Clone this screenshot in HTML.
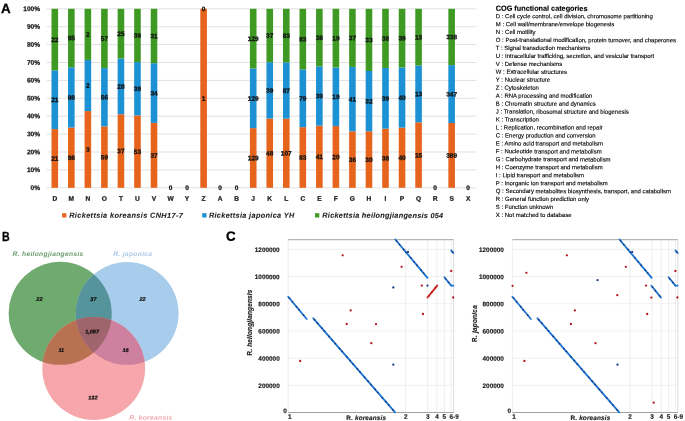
<!DOCTYPE html>
<html lang="en"><head><meta charset="utf-8"><title>Rickettsia COG figure</title>
<style>
html,body{margin:0;padding:0;background:#fff;}
body{width:685px;height:421px;overflow:hidden;}
svg{display:block;font-family:"Liberation Sans",Arial,sans-serif;}
.b{font-weight:bold;}
.i{font-style:italic;}
.ax{font-weight:bold;font-size:6.6px;fill:#1a1a1a;stroke:#1a1a1a;stroke-width:0.25px;}
.dl{font-weight:bold;font-size:6.5px;fill:#141414;text-anchor:middle;stroke:#141414;stroke-width:0.3px;}
.cog{font-size:5.97px;fill:#000;stroke:#000;stroke-width:0.12px;}
.vn{font-weight:bold;font-style:italic;font-size:5.5px;fill:#0c0c0c;text-anchor:middle;stroke:#0c0c0c;stroke-width:0.22px;}
.dp{font-weight:bold;font-size:6.4px;fill:#1a1a1a;stroke:#1a1a1a;stroke-width:0.15px;}
</style></head><body>
<svg width="685" height="421" viewBox="0 0 685 421">
<rect width="685" height="421" fill="#fff"/>
<text transform="matrix(1,0.001,0,1,0,0)" x="1" y="13.10" class="b" font-size="13.4" fill="#000" stroke="#000" stroke-width="0.3">A</text>
<line x1="46.8" x2="476.4" y1="187.80" y2="187.80" stroke="#d4d4d4" stroke-width="0.7"/>
<text transform="matrix(1,0.001,0,1,0,0)" x="40.1" y="189.91" class="ax" text-anchor="end">0%</text>
<line x1="46.8" x2="476.4" y1="169.90" y2="169.90" stroke="#d4d4d4" stroke-width="0.7"/>
<text transform="matrix(1,0.001,0,1,0,0)" x="40.1" y="172.01" class="ax" text-anchor="end">10%</text>
<line x1="46.8" x2="476.4" y1="152.00" y2="152.00" stroke="#d4d4d4" stroke-width="0.7"/>
<text transform="matrix(1,0.001,0,1,0,0)" x="40.1" y="154.11" class="ax" text-anchor="end">20%</text>
<line x1="46.8" x2="476.4" y1="134.10" y2="134.10" stroke="#d4d4d4" stroke-width="0.7"/>
<text transform="matrix(1,0.001,0,1,0,0)" x="40.1" y="136.21" class="ax" text-anchor="end">30%</text>
<line x1="46.8" x2="476.4" y1="116.20" y2="116.20" stroke="#d4d4d4" stroke-width="0.7"/>
<text transform="matrix(1,0.001,0,1,0,0)" x="40.1" y="118.31" class="ax" text-anchor="end">40%</text>
<line x1="46.8" x2="476.4" y1="98.30" y2="98.30" stroke="#d4d4d4" stroke-width="0.7"/>
<text transform="matrix(1,0.001,0,1,0,0)" x="40.1" y="100.41" class="ax" text-anchor="end">50%</text>
<line x1="46.8" x2="476.4" y1="80.40" y2="80.40" stroke="#d4d4d4" stroke-width="0.7"/>
<text transform="matrix(1,0.001,0,1,0,0)" x="40.1" y="82.51" class="ax" text-anchor="end">60%</text>
<line x1="46.8" x2="476.4" y1="62.50" y2="62.50" stroke="#d4d4d4" stroke-width="0.7"/>
<text transform="matrix(1,0.001,0,1,0,0)" x="40.1" y="64.61" class="ax" text-anchor="end">70%</text>
<line x1="46.8" x2="476.4" y1="44.60" y2="44.60" stroke="#d4d4d4" stroke-width="0.7"/>
<text transform="matrix(1,0.001,0,1,0,0)" x="40.1" y="46.71" class="ax" text-anchor="end">80%</text>
<line x1="46.8" x2="476.4" y1="26.70" y2="26.70" stroke="#d4d4d4" stroke-width="0.7"/>
<text transform="matrix(1,0.001,0,1,0,0)" x="40.1" y="28.81" class="ax" text-anchor="end">90%</text>
<line x1="46.8" x2="476.4" y1="8.80" y2="8.80" stroke="#d4d4d4" stroke-width="0.7"/>
<text transform="matrix(1,0.001,0,1,0,0)" x="40.1" y="10.91" class="ax" text-anchor="end">100%</text>
<text transform="matrix(1,0.001,0,1,0,0)" x="54.80" y="200.75" class="ax" text-anchor="middle" font-size="6.7">D</text>
<rect x="51.50" y="129.07" width="6.6" height="58.73" fill="#e7641d"/>
<rect x="51.50" y="70.33" width="6.6" height="58.73" fill="#1c91d3"/>
<rect x="51.50" y="8.80" width="6.6" height="61.53" fill="#3f9a23"/>
<text transform="matrix(1,0.001,0,1,0,0)" x="54.80" y="160.73" class="dl">21</text>
<text transform="matrix(1,0.001,0,1,0,0)" x="54.80" y="102.00" class="dl">21</text>
<text transform="matrix(1,0.001,0,1,0,0)" x="54.80" y="41.87" class="dl">22</text>
<text transform="matrix(1,0.001,0,1,0,0)" x="71.33" y="200.73" class="ax" text-anchor="middle" font-size="6.7">M</text>
<rect x="68.03" y="127.52" width="6.6" height="60.28" fill="#e7641d"/>
<rect x="68.03" y="67.24" width="6.6" height="60.28" fill="#1c91d3"/>
<rect x="68.03" y="8.80" width="6.6" height="58.44" fill="#3f9a23"/>
<text transform="matrix(1,0.001,0,1,0,0)" x="71.33" y="159.94" class="dl">98</text>
<text transform="matrix(1,0.001,0,1,0,0)" x="71.33" y="99.66" class="dl">98</text>
<text transform="matrix(1,0.001,0,1,0,0)" x="71.33" y="40.30" class="dl">95</text>
<text transform="matrix(1,0.001,0,1,0,0)" x="87.87" y="200.71" class="ax" text-anchor="middle" font-size="6.7">N</text>
<rect x="84.57" y="111.09" width="6.6" height="76.71" fill="#e7641d"/>
<rect x="84.57" y="59.94" width="6.6" height="51.14" fill="#1c91d3"/>
<rect x="84.57" y="8.80" width="6.6" height="51.14" fill="#3f9a23"/>
<text transform="matrix(1,0.001,0,1,0,0)" x="87.87" y="151.70" class="dl">3</text>
<text transform="matrix(1,0.001,0,1,0,0)" x="87.87" y="87.77" class="dl">2</text>
<text transform="matrix(1,0.001,0,1,0,0)" x="87.87" y="36.63" class="dl">2</text>
<text transform="matrix(1,0.001,0,1,0,0)" x="104.41" y="200.70" class="ax" text-anchor="middle" font-size="6.7">O</text>
<rect x="101.11" y="126.40" width="6.6" height="61.40" fill="#e7641d"/>
<rect x="101.11" y="68.12" width="6.6" height="58.28" fill="#1c91d3"/>
<rect x="101.11" y="8.80" width="6.6" height="59.32" fill="#3f9a23"/>
<text transform="matrix(1,0.001,0,1,0,0)" x="104.41" y="159.35" class="dl">59</text>
<text transform="matrix(1,0.001,0,1,0,0)" x="104.41" y="99.51" class="dl">56</text>
<text transform="matrix(1,0.001,0,1,0,0)" x="104.41" y="40.71" class="dl">57</text>
<text transform="matrix(1,0.001,0,1,0,0)" x="120.94" y="200.68" class="ax" text-anchor="middle" font-size="6.7">T</text>
<rect x="117.64" y="114.21" width="6.6" height="73.59" fill="#e7641d"/>
<rect x="117.64" y="58.52" width="6.6" height="55.69" fill="#1c91d3"/>
<rect x="117.64" y="8.80" width="6.6" height="49.72" fill="#3f9a23"/>
<text transform="matrix(1,0.001,0,1,0,0)" x="120.94" y="153.24" class="dl">37</text>
<text transform="matrix(1,0.001,0,1,0,0)" x="120.94" y="88.60" class="dl">28</text>
<text transform="matrix(1,0.001,0,1,0,0)" x="120.94" y="35.89" class="dl">25</text>
<text transform="matrix(1,0.001,0,1,0,0)" x="137.47" y="200.66" class="ax" text-anchor="middle" font-size="6.7">U</text>
<rect x="134.17" y="115.38" width="6.6" height="72.42" fill="#e7641d"/>
<rect x="134.17" y="62.09" width="6.6" height="53.29" fill="#1c91d3"/>
<rect x="134.17" y="8.80" width="6.6" height="53.29" fill="#3f9a23"/>
<text transform="matrix(1,0.001,0,1,0,0)" x="137.47" y="153.80" class="dl">53</text>
<text transform="matrix(1,0.001,0,1,0,0)" x="137.47" y="90.95" class="dl">39</text>
<text transform="matrix(1,0.001,0,1,0,0)" x="137.47" y="37.66" class="dl">39</text>
<text transform="matrix(1,0.001,0,1,0,0)" x="154.01" y="200.65" class="ax" text-anchor="middle" font-size="6.7">V</text>
<rect x="150.71" y="122.87" width="6.6" height="64.93" fill="#e7641d"/>
<rect x="150.71" y="63.20" width="6.6" height="59.67" fill="#1c91d3"/>
<rect x="150.71" y="8.80" width="6.6" height="54.40" fill="#3f9a23"/>
<text transform="matrix(1,0.001,0,1,0,0)" x="154.01" y="157.53" class="dl">37</text>
<text transform="matrix(1,0.001,0,1,0,0)" x="154.01" y="95.24" class="dl">34</text>
<text transform="matrix(1,0.001,0,1,0,0)" x="154.01" y="38.20" class="dl">31</text>
<text transform="matrix(1,0.001,0,1,0,0)" x="170.55" y="200.63" class="ax" text-anchor="middle" font-size="6.7">W</text>
<text transform="matrix(1,0.001,0,1,0,0)" x="170.55" y="189.73" class="dl">0</text>
<text transform="matrix(1,0.001,0,1,0,0)" x="187.08" y="200.61" class="ax" text-anchor="middle" font-size="6.7">Y</text>
<text transform="matrix(1,0.001,0,1,0,0)" x="187.08" y="189.71" class="dl">0</text>
<text transform="matrix(1,0.001,0,1,0,0)" x="203.62" y="200.60" class="ax" text-anchor="middle" font-size="6.7">Z</text>
<rect x="200.31" y="8.80" width="6.6" height="179.00" fill="#e7641d"/>
<text transform="matrix(1,0.001,0,1,0,0)" x="203.62" y="100.45" class="dl">1</text>
<text transform="matrix(1,0.001,0,1,0,0)" x="203.62" y="11.00" class="dl">0</text>
<text transform="matrix(1,0.001,0,1,0,0)" x="220.15" y="200.58" class="ax" text-anchor="middle" font-size="6.7">A</text>
<text transform="matrix(1,0.001,0,1,0,0)" x="220.15" y="189.68" class="dl">0</text>
<text transform="matrix(1,0.001,0,1,0,0)" x="236.69" y="200.56" class="ax" text-anchor="middle" font-size="6.7">B</text>
<text transform="matrix(1,0.001,0,1,0,0)" x="236.69" y="189.66" class="dl">0</text>
<text transform="matrix(1,0.001,0,1,0,0)" x="253.22" y="200.55" class="ax" text-anchor="middle" font-size="6.7">J</text>
<rect x="249.92" y="128.13" width="6.6" height="59.67" fill="#e7641d"/>
<rect x="249.92" y="68.47" width="6.6" height="59.67" fill="#1c91d3"/>
<rect x="249.92" y="8.80" width="6.6" height="59.67" fill="#3f9a23"/>
<text transform="matrix(1,0.001,0,1,0,0)" x="253.22" y="160.07" class="dl">129</text>
<text transform="matrix(1,0.001,0,1,0,0)" x="253.22" y="100.40" class="dl">129</text>
<text transform="matrix(1,0.001,0,1,0,0)" x="253.22" y="40.73" class="dl">129</text>
<text transform="matrix(1,0.001,0,1,0,0)" x="269.75" y="200.53" class="ax" text-anchor="middle" font-size="6.7">K</text>
<rect x="266.45" y="118.51" width="6.6" height="69.29" fill="#e7641d"/>
<rect x="266.45" y="62.21" width="6.6" height="56.30" fill="#1c91d3"/>
<rect x="266.45" y="8.80" width="6.6" height="53.41" fill="#3f9a23"/>
<text transform="matrix(1,0.001,0,1,0,0)" x="269.75" y="155.23" class="dl">48</text>
<text transform="matrix(1,0.001,0,1,0,0)" x="269.75" y="92.44" class="dl">39</text>
<text transform="matrix(1,0.001,0,1,0,0)" x="269.75" y="37.59" class="dl">37</text>
<text transform="matrix(1,0.001,0,1,0,0)" x="286.29" y="200.51" class="ax" text-anchor="middle" font-size="6.7">L</text>
<rect x="282.99" y="118.66" width="6.6" height="69.14" fill="#e7641d"/>
<rect x="282.99" y="62.44" width="6.6" height="56.22" fill="#1c91d3"/>
<rect x="282.99" y="8.80" width="6.6" height="53.64" fill="#3f9a23"/>
<text transform="matrix(1,0.001,0,1,0,0)" x="286.29" y="155.29" class="dl">107</text>
<text transform="matrix(1,0.001,0,1,0,0)" x="286.29" y="92.61" class="dl">87</text>
<text transform="matrix(1,0.001,0,1,0,0)" x="286.29" y="37.68" class="dl">83</text>
<text transform="matrix(1,0.001,0,1,0,0)" x="302.82" y="200.50" class="ax" text-anchor="middle" font-size="6.7">C</text>
<rect x="299.52" y="127.16" width="6.6" height="60.64" fill="#e7641d"/>
<rect x="299.52" y="69.44" width="6.6" height="57.72" fill="#1c91d3"/>
<rect x="299.52" y="8.80" width="6.6" height="60.64" fill="#3f9a23"/>
<text transform="matrix(1,0.001,0,1,0,0)" x="302.82" y="159.53" class="dl">83</text>
<text transform="matrix(1,0.001,0,1,0,0)" x="302.82" y="100.35" class="dl">79</text>
<text transform="matrix(1,0.001,0,1,0,0)" x="302.82" y="41.17" class="dl">83</text>
<text transform="matrix(1,0.001,0,1,0,0)" x="319.36" y="200.48" class="ax" text-anchor="middle" font-size="6.7">E</text>
<rect x="316.06" y="125.61" width="6.6" height="62.19" fill="#e7641d"/>
<rect x="316.06" y="66.44" width="6.6" height="59.16" fill="#1c91d3"/>
<rect x="316.06" y="8.80" width="6.6" height="57.64" fill="#3f9a23"/>
<text transform="matrix(1,0.001,0,1,0,0)" x="319.36" y="158.73" class="dl">41</text>
<text transform="matrix(1,0.001,0,1,0,0)" x="319.36" y="98.05" class="dl">39</text>
<text transform="matrix(1,0.001,0,1,0,0)" x="319.36" y="39.65" class="dl">38</text>
<text transform="matrix(1,0.001,0,1,0,0)" x="335.90" y="200.46" class="ax" text-anchor="middle" font-size="6.7">F</text>
<rect x="332.60" y="126.08" width="6.6" height="61.72" fill="#e7641d"/>
<rect x="332.60" y="67.44" width="6.6" height="58.64" fill="#1c91d3"/>
<rect x="332.60" y="8.80" width="6.6" height="58.64" fill="#3f9a23"/>
<text transform="matrix(1,0.001,0,1,0,0)" x="335.90" y="158.95" class="dl">20</text>
<text transform="matrix(1,0.001,0,1,0,0)" x="335.90" y="98.77" class="dl">19</text>
<text transform="matrix(1,0.001,0,1,0,0)" x="335.90" y="40.13" class="dl">19</text>
<text transform="matrix(1,0.001,0,1,0,0)" x="352.43" y="200.45" class="ax" text-anchor="middle" font-size="6.7">G</text>
<rect x="349.13" y="131.27" width="6.6" height="56.53" fill="#e7641d"/>
<rect x="349.13" y="66.90" width="6.6" height="64.38" fill="#1c91d3"/>
<rect x="349.13" y="8.80" width="6.6" height="58.10" fill="#3f9a23"/>
<text transform="matrix(1,0.001,0,1,0,0)" x="352.43" y="161.54" class="dl">36</text>
<text transform="matrix(1,0.001,0,1,0,0)" x="352.43" y="101.09" class="dl">41</text>
<text transform="matrix(1,0.001,0,1,0,0)" x="352.43" y="39.85" class="dl">37</text>
<text transform="matrix(1,0.001,0,1,0,0)" x="368.97" y="200.43" class="ax" text-anchor="middle" font-size="6.7">H</text>
<rect x="365.67" y="131.27" width="6.6" height="56.53" fill="#e7641d"/>
<rect x="365.67" y="70.98" width="6.6" height="60.29" fill="#1c91d3"/>
<rect x="365.67" y="8.80" width="6.6" height="62.18" fill="#3f9a23"/>
<text transform="matrix(1,0.001,0,1,0,0)" x="368.97" y="161.52" class="dl">30</text>
<text transform="matrix(1,0.001,0,1,0,0)" x="368.97" y="103.11" class="dl">32</text>
<text transform="matrix(1,0.001,0,1,0,0)" x="368.97" y="41.87" class="dl">33</text>
<text transform="matrix(1,0.001,0,1,0,0)" x="385.50" y="200.41" class="ax" text-anchor="middle" font-size="6.7">I</text>
<rect x="382.20" y="128.65" width="6.6" height="59.15" fill="#e7641d"/>
<rect x="382.20" y="67.95" width="6.6" height="60.70" fill="#1c91d3"/>
<rect x="382.20" y="8.80" width="6.6" height="59.15" fill="#3f9a23"/>
<text transform="matrix(1,0.001,0,1,0,0)" x="385.50" y="160.19" class="dl">38</text>
<text transform="matrix(1,0.001,0,1,0,0)" x="385.50" y="100.26" class="dl">39</text>
<text transform="matrix(1,0.001,0,1,0,0)" x="385.50" y="40.33" class="dl">38</text>
<text transform="matrix(1,0.001,0,1,0,0)" x="402.04" y="200.40" class="ax" text-anchor="middle" font-size="6.7">P</text>
<rect x="398.74" y="127.63" width="6.6" height="60.17" fill="#e7641d"/>
<rect x="398.74" y="67.46" width="6.6" height="60.17" fill="#1c91d3"/>
<rect x="398.74" y="8.80" width="6.6" height="58.66" fill="#3f9a23"/>
<text transform="matrix(1,0.001,0,1,0,0)" x="402.04" y="159.67" class="dl">40</text>
<text transform="matrix(1,0.001,0,1,0,0)" x="402.04" y="99.50" class="dl">40</text>
<text transform="matrix(1,0.001,0,1,0,0)" x="402.04" y="40.08" class="dl">39</text>
<text transform="matrix(1,0.001,0,1,0,0)" x="418.57" y="200.38" class="ax" text-anchor="middle" font-size="6.7">Q</text>
<rect x="415.27" y="122.31" width="6.6" height="65.49" fill="#e7641d"/>
<rect x="415.27" y="65.56" width="6.6" height="56.76" fill="#1c91d3"/>
<rect x="415.27" y="8.80" width="6.6" height="56.76" fill="#3f9a23"/>
<text transform="matrix(1,0.001,0,1,0,0)" x="418.57" y="156.99" class="dl">15</text>
<text transform="matrix(1,0.001,0,1,0,0)" x="418.57" y="95.86" class="dl">13</text>
<text transform="matrix(1,0.001,0,1,0,0)" x="418.57" y="39.11" class="dl">13</text>
<text transform="matrix(1,0.001,0,1,0,0)" x="435.11" y="200.36" class="ax" text-anchor="middle" font-size="6.7">R</text>
<text transform="matrix(1,0.001,0,1,0,0)" x="435.11" y="189.46" class="dl">0</text>
<text transform="matrix(1,0.001,0,1,0,0)" x="451.64" y="200.35" class="ax" text-anchor="middle" font-size="6.7">S</text>
<rect x="448.34" y="122.97" width="6.6" height="64.83" fill="#e7641d"/>
<rect x="448.34" y="65.13" width="6.6" height="57.83" fill="#1c91d3"/>
<rect x="448.34" y="8.80" width="6.6" height="56.33" fill="#3f9a23"/>
<text transform="matrix(1,0.001,0,1,0,0)" x="451.64" y="157.28" class="dl">389</text>
<text transform="matrix(1,0.001,0,1,0,0)" x="451.64" y="95.95" class="dl">347</text>
<text transform="matrix(1,0.001,0,1,0,0)" x="451.64" y="38.87" class="dl">338</text>
<text transform="matrix(1,0.001,0,1,0,0)" x="468.18" y="200.33" class="ax" text-anchor="middle" font-size="6.7">X</text>
<text transform="matrix(1,0.001,0,1,0,0)" x="468.18" y="189.43" class="dl">0</text>
<rect x="62.1" y="213.2" width="4.3" height="4.3" fill="#e7641d"/>
<text transform="matrix(1,0.001,0,1,0,0)" x="69.2" y="217.73" class="b i" font-size="7.3" fill="#1a1a1a" stroke="#1a1a1a" stroke-width="0.1" textLength="113.6" lengthAdjust="spacing">Rickettsia koreansis CNH17-7</text>
<rect x="202.2" y="213.2" width="4.3" height="4.3" fill="#1c91d3"/>
<text transform="matrix(1,0.001,0,1,0,0)" x="208.9" y="217.59" class="b i" font-size="7.3" fill="#1a1a1a" stroke="#1a1a1a" stroke-width="0.1" textLength="85.3" lengthAdjust="spacing">Rickettsia japonica YH</text>
<rect x="315" y="213.2" width="4.3" height="4.3" fill="#3f9a23"/>
<text transform="matrix(1,0.001,0,1,0,0)" x="322.3" y="217.48" class="b i" font-size="7.3" fill="#1a1a1a" stroke="#1a1a1a" stroke-width="0.1" textLength="120.9" lengthAdjust="spacing">Rickettsia heilongjiangensis 054</text>
<text transform="matrix(1,0.001,0,1,0,0)" x="495.8" y="10.30" class="b" font-size="7.27" fill="#000" stroke="#000" stroke-width="0.15">COG functional categories</text>
<text transform="matrix(1,0.001,0,1,0,0)" x="495.8" y="17.70" class="cog">D : Cell cycle control, cell division, chromosome partitioning</text>
<text transform="matrix(1,0.001,0,1,0,0)" x="495.8" y="25.65" class="cog">M : Cell wall/membrane/envelope biogenesis</text>
<text transform="matrix(1,0.001,0,1,0,0)" x="495.8" y="33.60" class="cog">N : Cell motility</text>
<text transform="matrix(1,0.001,0,1,0,0)" x="495.8" y="41.55" class="cog">O : Post-translational modification, protein turnover, and chaperones</text>
<text transform="matrix(1,0.001,0,1,0,0)" x="495.8" y="49.50" class="cog">T : Signal transduction mechanisms</text>
<text transform="matrix(1,0.001,0,1,0,0)" x="495.8" y="57.45" class="cog">U : Intracellular trafficking, secretion, and vesicular transport</text>
<text transform="matrix(1,0.001,0,1,0,0)" x="495.8" y="65.40" class="cog">V : Defense mechanisms</text>
<text transform="matrix(1,0.001,0,1,0,0)" x="495.8" y="73.35" class="cog">W : Extracellular structures</text>
<text transform="matrix(1,0.001,0,1,0,0)" x="495.8" y="81.30" class="cog">Y : Nuclear structure</text>
<text transform="matrix(1,0.001,0,1,0,0)" x="495.8" y="89.25" class="cog">Z : Cytoskeleton</text>
<text transform="matrix(1,0.001,0,1,0,0)" x="495.8" y="97.20" class="cog">A : RNA processing and modification</text>
<text transform="matrix(1,0.001,0,1,0,0)" x="495.8" y="105.15" class="cog">B : Chromatin structure and dynamics</text>
<text transform="matrix(1,0.001,0,1,0,0)" x="495.8" y="113.10" class="cog">J : Translation, ribosomal structure and biogenesis</text>
<text transform="matrix(1,0.001,0,1,0,0)" x="495.8" y="121.05" class="cog">K : Transcription</text>
<text transform="matrix(1,0.001,0,1,0,0)" x="495.8" y="129.00" class="cog">L : Replication, recombination and repair</text>
<text transform="matrix(1,0.001,0,1,0,0)" x="495.8" y="136.95" class="cog">C : Energy production and conversion</text>
<text transform="matrix(1,0.001,0,1,0,0)" x="495.8" y="144.90" class="cog">E : Amino acid transport and metabolism</text>
<text transform="matrix(1,0.001,0,1,0,0)" x="495.8" y="152.85" class="cog">F : Nucleotide transport and metabolism</text>
<text transform="matrix(1,0.001,0,1,0,0)" x="495.8" y="160.80" class="cog">G : Carbohydrate transport and metabolism</text>
<text transform="matrix(1,0.001,0,1,0,0)" x="495.8" y="168.75" class="cog">H : Coenzyme transport and metabolism</text>
<text transform="matrix(1,0.001,0,1,0,0)" x="495.8" y="176.70" class="cog">I : Lipid transport and metabolism</text>
<text transform="matrix(1,0.001,0,1,0,0)" x="495.8" y="184.65" class="cog">P : Inorganic ion transport and metabolism</text>
<text transform="matrix(1,0.001,0,1,0,0)" x="495.8" y="192.60" class="cog">Q : Secondary metabolites biosynthesis, transport, and catabolism</text>
<text transform="matrix(1,0.001,0,1,0,0)" x="495.8" y="200.55" class="cog">R : General function prediction only</text>
<text transform="matrix(1,0.001,0,1,0,0)" x="495.8" y="208.50" class="cog">S : Function unknown</text>
<text transform="matrix(1,0.001,0,1,0,0)" x="495.8" y="216.45" class="cog">X : Not matched to database</text>
<text transform="matrix(1,0.001,0,1,0,0)" x="2.0" y="240.90" class="b" font-size="13.2" fill="#000" stroke="#000" stroke-width="0.3" textLength="7.7" lengthAdjust="spacingAndGlyphs">B</text>
<defs>
<clipPath id="cg"><circle cx="60.3" cy="313.4" r="51.4"/></clipPath>
<clipPath id="cb"><circle cx="127.2" cy="313.4" r="51.4"/></clipPath>
<clipPath id="cp"><circle cx="93.7" cy="368.5" r="51.4"/></clipPath>
</defs>
<circle cx="60.3" cy="313.4" r="51.4" fill="#6fab6e" stroke="#5f9a5f" stroke-width="0.4"/>
<circle cx="127.2" cy="313.4" r="51.4" fill="#a8cceb"/>
<circle cx="93.7" cy="368.5" r="51.4" fill="#f7a6ab"/>
<circle cx="127.2" cy="313.4" r="51.4" fill="#54949a" clip-path="url(#cg)"/>
<circle cx="93.7" cy="368.5" r="51.4" fill="#b87252" clip-path="url(#cg)"/>
<circle cx="93.7" cy="368.5" r="51.4" fill="#cd819f" clip-path="url(#cb)"/>
<g clip-path="url(#cg)"><circle cx="93.7" cy="368.5" r="51.4" fill="#9e656c" clip-path="url(#cb)"/></g>
<text transform="matrix(1,0.001,0,1,0,0)" x="12.6" y="255.89" class="b i" font-size="6.7" fill="#699c6a" textLength="70.7" lengthAdjust="spacing">R. heilongjiangensis</text>
<text transform="matrix(1,0.001,0,1,0,0)" x="113.2" y="255.79" class="b i" font-size="6.7" fill="#a9c8e6" textLength="38.9" lengthAdjust="spacing">R. japonica</text>
<text transform="matrix(1,0.001,0,1,0,0)" x="129.3" y="419.67" class="b i" font-size="6.7" fill="#f2a7ad" textLength="43" lengthAdjust="spacing">R. koreansis</text>
<text transform="matrix(1,0.001,0,1,0,0)" x="39.4" y="301.06" class="vn">22</text>
<text transform="matrix(1,0.001,0,1,0,0)" x="93.4" y="301.01" class="vn">37</text>
<text transform="matrix(1,0.001,0,1,0,0)" x="142.5" y="300.96" class="vn">22</text>
<text transform="matrix(1,0.001,0,1,0,0)" x="92.1" y="333.31" class="vn">1,097</text>
<text transform="matrix(1,0.001,0,1,0,0)" x="61.3" y="352.04" class="vn">11</text>
<text transform="matrix(1,0.001,0,1,0,0)" x="125.5" y="351.97" class="vn">16</text>
<text transform="matrix(1,0.001,0,1,0,0)" x="92.9" y="399.51" class="vn">132</text>
<text transform="matrix(1,0.001,0,1,0,0)" x="225.9" y="240.57" class="b" font-size="13.4" fill="#000" stroke="#000" stroke-width="0.3">C</text>
<line x1="288.2" x2="453.6" y1="385.30" y2="385.30" stroke="#e6e6e6" stroke-width="0.6"/>
<line x1="288.2" x2="453.6" y1="358.10" y2="358.10" stroke="#e6e6e6" stroke-width="0.6"/>
<line x1="288.2" x2="453.6" y1="330.90" y2="330.90" stroke="#e6e6e6" stroke-width="0.6"/>
<line x1="288.2" x2="453.6" y1="303.70" y2="303.70" stroke="#e6e6e6" stroke-width="0.6"/>
<line x1="288.2" x2="453.6" y1="276.50" y2="276.50" stroke="#e6e6e6" stroke-width="0.6"/>
<line x1="288.2" x2="453.6" y1="249.30" y2="249.30" stroke="#e6e6e6" stroke-width="0.6"/>
<line x1="405.60" x2="405.60" y1="239.7" y2="412.5" stroke="#e4e4e4" stroke-width="0.6"/>
<line x1="427.70" x2="427.70" y1="239.7" y2="412.5" stroke="#e4e4e4" stroke-width="0.6"/>
<line x1="437.00" x2="437.00" y1="239.7" y2="412.5" stroke="#e4e4e4" stroke-width="0.6"/>
<line x1="444.40" x2="444.40" y1="239.7" y2="412.5" stroke="#e4e4e4" stroke-width="0.6"/>
<line x1="451.20" x2="451.20" y1="239.7" y2="412.5" stroke="#e4e4e4" stroke-width="0.6"/>
<line x1="288.2" x2="288.2" y1="239.7" y2="412.5" stroke="#e0e0e0" stroke-width="0.6"/>
<line x1="453.6" x2="453.6" y1="239.7" y2="412.5" stroke="#dcdcdc" stroke-width="1"/>
<line x1="288.2" x2="453.6" y1="239.7" y2="239.7" stroke="#8c8c8c" stroke-width="0.8"/>
<line x1="288.2" x2="453.6" y1="412.5" y2="412.5" stroke="#8c8c8c" stroke-width="0.8"/>
<text transform="matrix(1,0.001,0,1,0,0)" x="286.90" y="412.81" class="dp" text-anchor="end">0</text>
<text transform="matrix(1,0.001,0,1,0,0)" x="279.70" y="387.67" class="dp" text-anchor="end">200000</text>
<text transform="matrix(1,0.001,0,1,0,0)" x="279.70" y="360.47" class="dp" text-anchor="end">400000</text>
<text transform="matrix(1,0.001,0,1,0,0)" x="279.70" y="333.27" class="dp" text-anchor="end">600000</text>
<text transform="matrix(1,0.001,0,1,0,0)" x="279.70" y="306.07" class="dp" text-anchor="end">800000</text>
<text transform="matrix(1,0.001,0,1,0,0)" x="279.70" y="278.87" class="dp" text-anchor="end">1000000</text>
<text transform="matrix(1,0.001,0,1,0,0)" x="279.70" y="251.67" class="dp" text-anchor="end">1200000</text>
<text transform="matrix(1,0.001,0,1,0,0)" x="289.80" y="418.51" class="dp" text-anchor="middle">1</text>
<text transform="matrix(1,0.001,0,1,0,0)" x="346.30" y="419.55" class="dp" textLength="39.8" lengthAdjust="spacing">R. <tspan class="i">koreansis</tspan></text>
<text transform="matrix(1,0.001,0,1,0,0)" x="405.80" y="418.39" class="dp" text-anchor="middle">2</text>
<text transform="matrix(1,0.001,0,1,0,0)" x="427.80" y="418.37" class="dp" text-anchor="middle">3</text>
<text transform="matrix(1,0.001,0,1,0,0)" x="437.00" y="418.36" class="dp" text-anchor="middle">4</text>
<text transform="matrix(1,0.001,0,1,0,0)" x="444.40" y="418.36" class="dp" text-anchor="middle">5</text>
<text transform="matrix(1,0.001,0,1,0,0)" x="454.20" y="418.35" class="dp" text-anchor="middle">6-9</text>
<text transform="translate(252.40,322.6) rotate(-90)" class="dp" font-size="6.9" text-anchor="middle" textLength="66" lengthAdjust="spacing">R. <tspan class="i">heilongjiangensis</tspan></text>
<line x1="288.20" y1="296.70" x2="306.70" y2="319.00" stroke="#1b74d4" stroke-width="1.8" stroke-linecap="round"/>
<circle cx="289.48" cy="298.24" r="0.85" fill="#17306e" opacity="0.9"/>
<circle cx="292.35" cy="301.70" r="0.85" fill="#17306e" opacity="0.9"/>
<circle cx="296.50" cy="306.71" r="0.85" fill="#17306e" opacity="0.9"/>
<circle cx="298.93" cy="309.63" r="0.85" fill="#17306e" opacity="0.9"/>
<circle cx="303.52" cy="315.17" r="0.85" fill="#17306e" opacity="0.9"/>
<line x1="313.30" y1="318.30" x2="395.10" y2="412.30" stroke="#1b74d4" stroke-width="1.8" stroke-linecap="round"/>
<circle cx="314.61" cy="319.81" r="0.85" fill="#17306e" opacity="0.9"/>
<circle cx="317.57" cy="323.20" r="0.85" fill="#17306e" opacity="0.9"/>
<circle cx="321.83" cy="328.11" r="0.85" fill="#17306e" opacity="0.9"/>
<circle cx="324.33" cy="330.97" r="0.85" fill="#17306e" opacity="0.9"/>
<circle cx="329.05" cy="336.40" r="0.85" fill="#17306e" opacity="0.9"/>
<circle cx="332.40" cy="340.25" r="0.85" fill="#17306e" opacity="0.9"/>
<circle cx="335.36" cy="343.65" r="0.85" fill="#17306e" opacity="0.9"/>
<circle cx="339.62" cy="348.55" r="0.85" fill="#17306e" opacity="0.9"/>
<circle cx="342.12" cy="351.42" r="0.85" fill="#17306e" opacity="0.9"/>
<circle cx="346.84" cy="356.85" r="0.85" fill="#17306e" opacity="0.9"/>
<circle cx="350.19" cy="360.70" r="0.85" fill="#17306e" opacity="0.9"/>
<circle cx="353.15" cy="364.09" r="0.85" fill="#17306e" opacity="0.9"/>
<circle cx="357.41" cy="368.99" r="0.85" fill="#17306e" opacity="0.9"/>
<circle cx="359.91" cy="371.86" r="0.85" fill="#17306e" opacity="0.9"/>
<circle cx="364.63" cy="377.29" r="0.85" fill="#17306e" opacity="0.9"/>
<circle cx="367.98" cy="381.14" r="0.85" fill="#17306e" opacity="0.9"/>
<circle cx="370.94" cy="384.53" r="0.85" fill="#17306e" opacity="0.9"/>
<circle cx="375.20" cy="389.44" r="0.85" fill="#17306e" opacity="0.9"/>
<circle cx="377.70" cy="392.30" r="0.85" fill="#17306e" opacity="0.9"/>
<circle cx="382.42" cy="397.73" r="0.85" fill="#17306e" opacity="0.9"/>
<circle cx="385.77" cy="401.58" r="0.85" fill="#17306e" opacity="0.9"/>
<circle cx="388.73" cy="404.98" r="0.85" fill="#17306e" opacity="0.9"/>
<circle cx="392.99" cy="409.88" r="0.85" fill="#17306e" opacity="0.9"/>
<line x1="395.30" y1="239.50" x2="427.50" y2="277.80" stroke="#1b74d4" stroke-width="1.8" stroke-linecap="round"/>
<circle cx="396.59" cy="241.03" r="0.85" fill="#17306e" opacity="0.9"/>
<circle cx="399.48" cy="244.48" r="0.85" fill="#17306e" opacity="0.9"/>
<circle cx="403.67" cy="249.45" r="0.85" fill="#17306e" opacity="0.9"/>
<circle cx="406.11" cy="252.36" r="0.85" fill="#17306e" opacity="0.9"/>
<circle cx="410.74" cy="257.87" r="0.85" fill="#17306e" opacity="0.9"/>
<circle cx="414.03" cy="261.77" r="0.85" fill="#17306e" opacity="0.9"/>
<circle cx="416.92" cy="265.22" r="0.85" fill="#17306e" opacity="0.9"/>
<circle cx="421.11" cy="270.19" r="0.85" fill="#17306e" opacity="0.9"/>
<circle cx="423.55" cy="273.10" r="0.85" fill="#17306e" opacity="0.9"/>
<line x1="444.40" y1="277.30" x2="451.20" y2="285.60" stroke="#1b74d4" stroke-width="1.8" stroke-linecap="round"/>
<circle cx="445.67" cy="278.85" r="0.85" fill="#17306e" opacity="0.9"/>
<circle cx="448.52" cy="282.33" r="0.85" fill="#17306e" opacity="0.9"/>
<line x1="451.20" y1="285.60" x2="453.40" y2="285.60" stroke="#1b74d4" stroke-width="1.8" stroke-linecap="round"/>
<line x1="451.20" y1="250.40" x2="453.40" y2="253.00" stroke="#1b74d4" stroke-width="1.8" stroke-linecap="round"/>
<circle cx="452.49" cy="251.93" r="0.85" fill="#17306e" opacity="0.9"/>
<line x1="427.50" y1="297.50" x2="437.20" y2="285.60" stroke="#cf2222" stroke-width="1.9" stroke-linecap="round"/>
<circle cx="428.76" cy="295.95" r="0.85" fill="#a81818" opacity="0.9"/>
<circle cx="431.61" cy="292.46" r="0.85" fill="#a81818" opacity="0.9"/>
<circle cx="435.71" cy="287.42" r="0.85" fill="#a81818" opacity="0.9"/>
<circle cx="427.50" cy="285.60" r="1.15" fill="#1c3f88"/>
<circle cx="300.20" cy="361.00" r="1.15" fill="#b51622"/>
<circle cx="342.70" cy="255.30" r="1.15" fill="#b51622"/>
<circle cx="401.60" cy="266.80" r="1.15" fill="#b51622"/>
<circle cx="421.80" cy="285.60" r="1.15" fill="#b51622"/>
<circle cx="451.20" cy="271.00" r="1.15" fill="#b51622"/>
<circle cx="453.20" cy="297.50" r="1.15" fill="#b51622"/>
<circle cx="423.00" cy="314.00" r="1.15" fill="#b51622"/>
<circle cx="350.70" cy="310.40" r="1.15" fill="#b51622"/>
<circle cx="346.70" cy="324.00" r="1.15" fill="#b51622"/>
<circle cx="371.30" cy="343.20" r="1.15" fill="#b51622"/>
<circle cx="393.30" cy="364.70" r="1.15" fill="#1c3f88"/>
<circle cx="408.00" cy="251.90" r="1.15" fill="#1c3f88"/>
<circle cx="376.00" cy="324.20" r="1.15" fill="#b51622"/>
<circle cx="393.30" cy="287.50" r="1.15" fill="#1c3f88"/>
<line x1="512.4" x2="677.8" y1="385.30" y2="385.30" stroke="#e6e6e6" stroke-width="0.6"/>
<line x1="512.4" x2="677.8" y1="358.10" y2="358.10" stroke="#e6e6e6" stroke-width="0.6"/>
<line x1="512.4" x2="677.8" y1="330.90" y2="330.90" stroke="#e6e6e6" stroke-width="0.6"/>
<line x1="512.4" x2="677.8" y1="303.70" y2="303.70" stroke="#e6e6e6" stroke-width="0.6"/>
<line x1="512.4" x2="677.8" y1="276.50" y2="276.50" stroke="#e6e6e6" stroke-width="0.6"/>
<line x1="512.4" x2="677.8" y1="249.30" y2="249.30" stroke="#e6e6e6" stroke-width="0.6"/>
<line x1="629.80" x2="629.80" y1="239.7" y2="412.5" stroke="#e4e4e4" stroke-width="0.6"/>
<line x1="651.90" x2="651.90" y1="239.7" y2="412.5" stroke="#e4e4e4" stroke-width="0.6"/>
<line x1="661.20" x2="661.20" y1="239.7" y2="412.5" stroke="#e4e4e4" stroke-width="0.6"/>
<line x1="668.60" x2="668.60" y1="239.7" y2="412.5" stroke="#e4e4e4" stroke-width="0.6"/>
<line x1="675.40" x2="675.40" y1="239.7" y2="412.5" stroke="#e4e4e4" stroke-width="0.6"/>
<line x1="512.4" x2="512.4" y1="239.7" y2="412.5" stroke="#e0e0e0" stroke-width="0.6"/>
<line x1="677.8" x2="677.8" y1="239.7" y2="412.5" stroke="#dcdcdc" stroke-width="1"/>
<line x1="512.4" x2="677.8" y1="239.7" y2="239.7" stroke="#8c8c8c" stroke-width="0.8"/>
<line x1="512.4" x2="677.8" y1="412.5" y2="412.5" stroke="#8c8c8c" stroke-width="0.8"/>
<text transform="matrix(1,0.001,0,1,0,0)" x="511.10" y="412.59" class="dp" text-anchor="end">0</text>
<text transform="matrix(1,0.001,0,1,0,0)" x="503.90" y="387.45" class="dp" text-anchor="end">200000</text>
<text transform="matrix(1,0.001,0,1,0,0)" x="503.90" y="360.25" class="dp" text-anchor="end">400000</text>
<text transform="matrix(1,0.001,0,1,0,0)" x="503.90" y="333.05" class="dp" text-anchor="end">600000</text>
<text transform="matrix(1,0.001,0,1,0,0)" x="503.90" y="305.85" class="dp" text-anchor="end">800000</text>
<text transform="matrix(1,0.001,0,1,0,0)" x="503.90" y="278.65" class="dp" text-anchor="end">1000000</text>
<text transform="matrix(1,0.001,0,1,0,0)" x="503.90" y="251.45" class="dp" text-anchor="end">1200000</text>
<text transform="matrix(1,0.001,0,1,0,0)" x="514.00" y="418.29" class="dp" text-anchor="middle">1</text>
<text transform="matrix(1,0.001,0,1,0,0)" x="570.50" y="419.33" class="dp" textLength="39.8" lengthAdjust="spacing">R. <tspan class="i">koreansis</tspan></text>
<text transform="matrix(1,0.001,0,1,0,0)" x="630.00" y="418.17" class="dp" text-anchor="middle">2</text>
<text transform="matrix(1,0.001,0,1,0,0)" x="652.00" y="418.15" class="dp" text-anchor="middle">3</text>
<text transform="matrix(1,0.001,0,1,0,0)" x="661.20" y="418.14" class="dp" text-anchor="middle">4</text>
<text transform="matrix(1,0.001,0,1,0,0)" x="668.60" y="418.13" class="dp" text-anchor="middle">5</text>
<text transform="matrix(1,0.001,0,1,0,0)" x="678.40" y="418.12" class="dp" text-anchor="middle">6-9</text>
<text transform="translate(476.60,323.7) rotate(-90)" class="dp" font-size="6.9" text-anchor="middle" textLength="36.8" lengthAdjust="spacing">R. <tspan class="i">japonica</tspan></text>
<line x1="512.40" y1="296.70" x2="530.90" y2="319.00" stroke="#1b74d4" stroke-width="1.8" stroke-linecap="round"/>
<circle cx="513.68" cy="298.24" r="0.85" fill="#17306e" opacity="0.9"/>
<circle cx="516.55" cy="301.70" r="0.85" fill="#17306e" opacity="0.9"/>
<circle cx="520.70" cy="306.71" r="0.85" fill="#17306e" opacity="0.9"/>
<circle cx="523.13" cy="309.63" r="0.85" fill="#17306e" opacity="0.9"/>
<circle cx="527.72" cy="315.17" r="0.85" fill="#17306e" opacity="0.9"/>
<line x1="537.50" y1="318.30" x2="619.30" y2="412.30" stroke="#1b74d4" stroke-width="1.8" stroke-linecap="round"/>
<circle cx="538.81" cy="319.81" r="0.85" fill="#17306e" opacity="0.9"/>
<circle cx="541.77" cy="323.20" r="0.85" fill="#17306e" opacity="0.9"/>
<circle cx="546.03" cy="328.11" r="0.85" fill="#17306e" opacity="0.9"/>
<circle cx="548.53" cy="330.97" r="0.85" fill="#17306e" opacity="0.9"/>
<circle cx="553.25" cy="336.40" r="0.85" fill="#17306e" opacity="0.9"/>
<circle cx="556.60" cy="340.25" r="0.85" fill="#17306e" opacity="0.9"/>
<circle cx="559.56" cy="343.65" r="0.85" fill="#17306e" opacity="0.9"/>
<circle cx="563.82" cy="348.55" r="0.85" fill="#17306e" opacity="0.9"/>
<circle cx="566.32" cy="351.42" r="0.85" fill="#17306e" opacity="0.9"/>
<circle cx="571.04" cy="356.85" r="0.85" fill="#17306e" opacity="0.9"/>
<circle cx="574.39" cy="360.70" r="0.85" fill="#17306e" opacity="0.9"/>
<circle cx="577.35" cy="364.09" r="0.85" fill="#17306e" opacity="0.9"/>
<circle cx="581.61" cy="368.99" r="0.85" fill="#17306e" opacity="0.9"/>
<circle cx="584.11" cy="371.86" r="0.85" fill="#17306e" opacity="0.9"/>
<circle cx="588.83" cy="377.29" r="0.85" fill="#17306e" opacity="0.9"/>
<circle cx="592.18" cy="381.14" r="0.85" fill="#17306e" opacity="0.9"/>
<circle cx="595.14" cy="384.53" r="0.85" fill="#17306e" opacity="0.9"/>
<circle cx="599.40" cy="389.44" r="0.85" fill="#17306e" opacity="0.9"/>
<circle cx="601.90" cy="392.30" r="0.85" fill="#17306e" opacity="0.9"/>
<circle cx="606.62" cy="397.73" r="0.85" fill="#17306e" opacity="0.9"/>
<circle cx="609.97" cy="401.58" r="0.85" fill="#17306e" opacity="0.9"/>
<circle cx="612.93" cy="404.98" r="0.85" fill="#17306e" opacity="0.9"/>
<circle cx="617.19" cy="409.88" r="0.85" fill="#17306e" opacity="0.9"/>
<line x1="619.50" y1="239.50" x2="651.70" y2="277.80" stroke="#1b74d4" stroke-width="1.8" stroke-linecap="round"/>
<circle cx="620.79" cy="241.03" r="0.85" fill="#17306e" opacity="0.9"/>
<circle cx="623.68" cy="244.48" r="0.85" fill="#17306e" opacity="0.9"/>
<circle cx="627.87" cy="249.45" r="0.85" fill="#17306e" opacity="0.9"/>
<circle cx="630.31" cy="252.36" r="0.85" fill="#17306e" opacity="0.9"/>
<circle cx="634.94" cy="257.87" r="0.85" fill="#17306e" opacity="0.9"/>
<circle cx="638.23" cy="261.77" r="0.85" fill="#17306e" opacity="0.9"/>
<circle cx="641.12" cy="265.22" r="0.85" fill="#17306e" opacity="0.9"/>
<circle cx="645.31" cy="270.19" r="0.85" fill="#17306e" opacity="0.9"/>
<circle cx="647.75" cy="273.10" r="0.85" fill="#17306e" opacity="0.9"/>
<line x1="668.60" y1="277.30" x2="675.40" y2="285.60" stroke="#1b74d4" stroke-width="1.8" stroke-linecap="round"/>
<circle cx="669.87" cy="278.85" r="0.85" fill="#17306e" opacity="0.9"/>
<circle cx="672.72" cy="282.33" r="0.85" fill="#17306e" opacity="0.9"/>
<line x1="675.40" y1="285.60" x2="677.60" y2="285.60" stroke="#1b74d4" stroke-width="1.8" stroke-linecap="round"/>
<line x1="675.40" y1="250.40" x2="677.60" y2="253.00" stroke="#1b74d4" stroke-width="1.8" stroke-linecap="round"/>
<circle cx="676.69" cy="251.93" r="0.85" fill="#17306e" opacity="0.9"/>
<line x1="651.40" y1="285.70" x2="661.00" y2="297.60" stroke="#1b74d4" stroke-width="1.8" stroke-linecap="round"/>
<circle cx="652.66" cy="287.26" r="0.85" fill="#17306e" opacity="0.9"/>
<circle cx="655.48" cy="290.76" r="0.85" fill="#17306e" opacity="0.9"/>
<circle cx="659.56" cy="295.82" r="0.85" fill="#17306e" opacity="0.9"/>
<circle cx="524.40" cy="361.00" r="1.15" fill="#b51622"/>
<circle cx="566.90" cy="255.30" r="1.15" fill="#b51622"/>
<circle cx="625.80" cy="266.80" r="1.15" fill="#b51622"/>
<circle cx="646.00" cy="285.60" r="1.15" fill="#b51622"/>
<circle cx="675.40" cy="271.00" r="1.15" fill="#b51622"/>
<circle cx="677.40" cy="297.50" r="1.15" fill="#b51622"/>
<circle cx="647.20" cy="314.00" r="1.15" fill="#b51622"/>
<circle cx="574.90" cy="310.40" r="1.15" fill="#b51622"/>
<circle cx="570.90" cy="324.00" r="1.15" fill="#b51622"/>
<circle cx="595.50" cy="343.20" r="1.15" fill="#b51622"/>
<circle cx="617.50" cy="364.70" r="1.15" fill="#1c3f88"/>
<circle cx="632.20" cy="251.90" r="1.15" fill="#1c3f88"/>
<circle cx="512.60" cy="285.80" r="1.15" fill="#b51622"/>
<circle cx="526.40" cy="272.80" r="1.15" fill="#b51622"/>
<circle cx="617.30" cy="295.20" r="1.15" fill="#b51622"/>
<circle cx="651.40" cy="297.60" r="1.15" fill="#b51622"/>
<circle cx="653.70" cy="402.70" r="1.15" fill="#b51622"/>
<circle cx="597.50" cy="280.20" r="1.15" fill="#1c3f88"/>
</svg></body></html>
